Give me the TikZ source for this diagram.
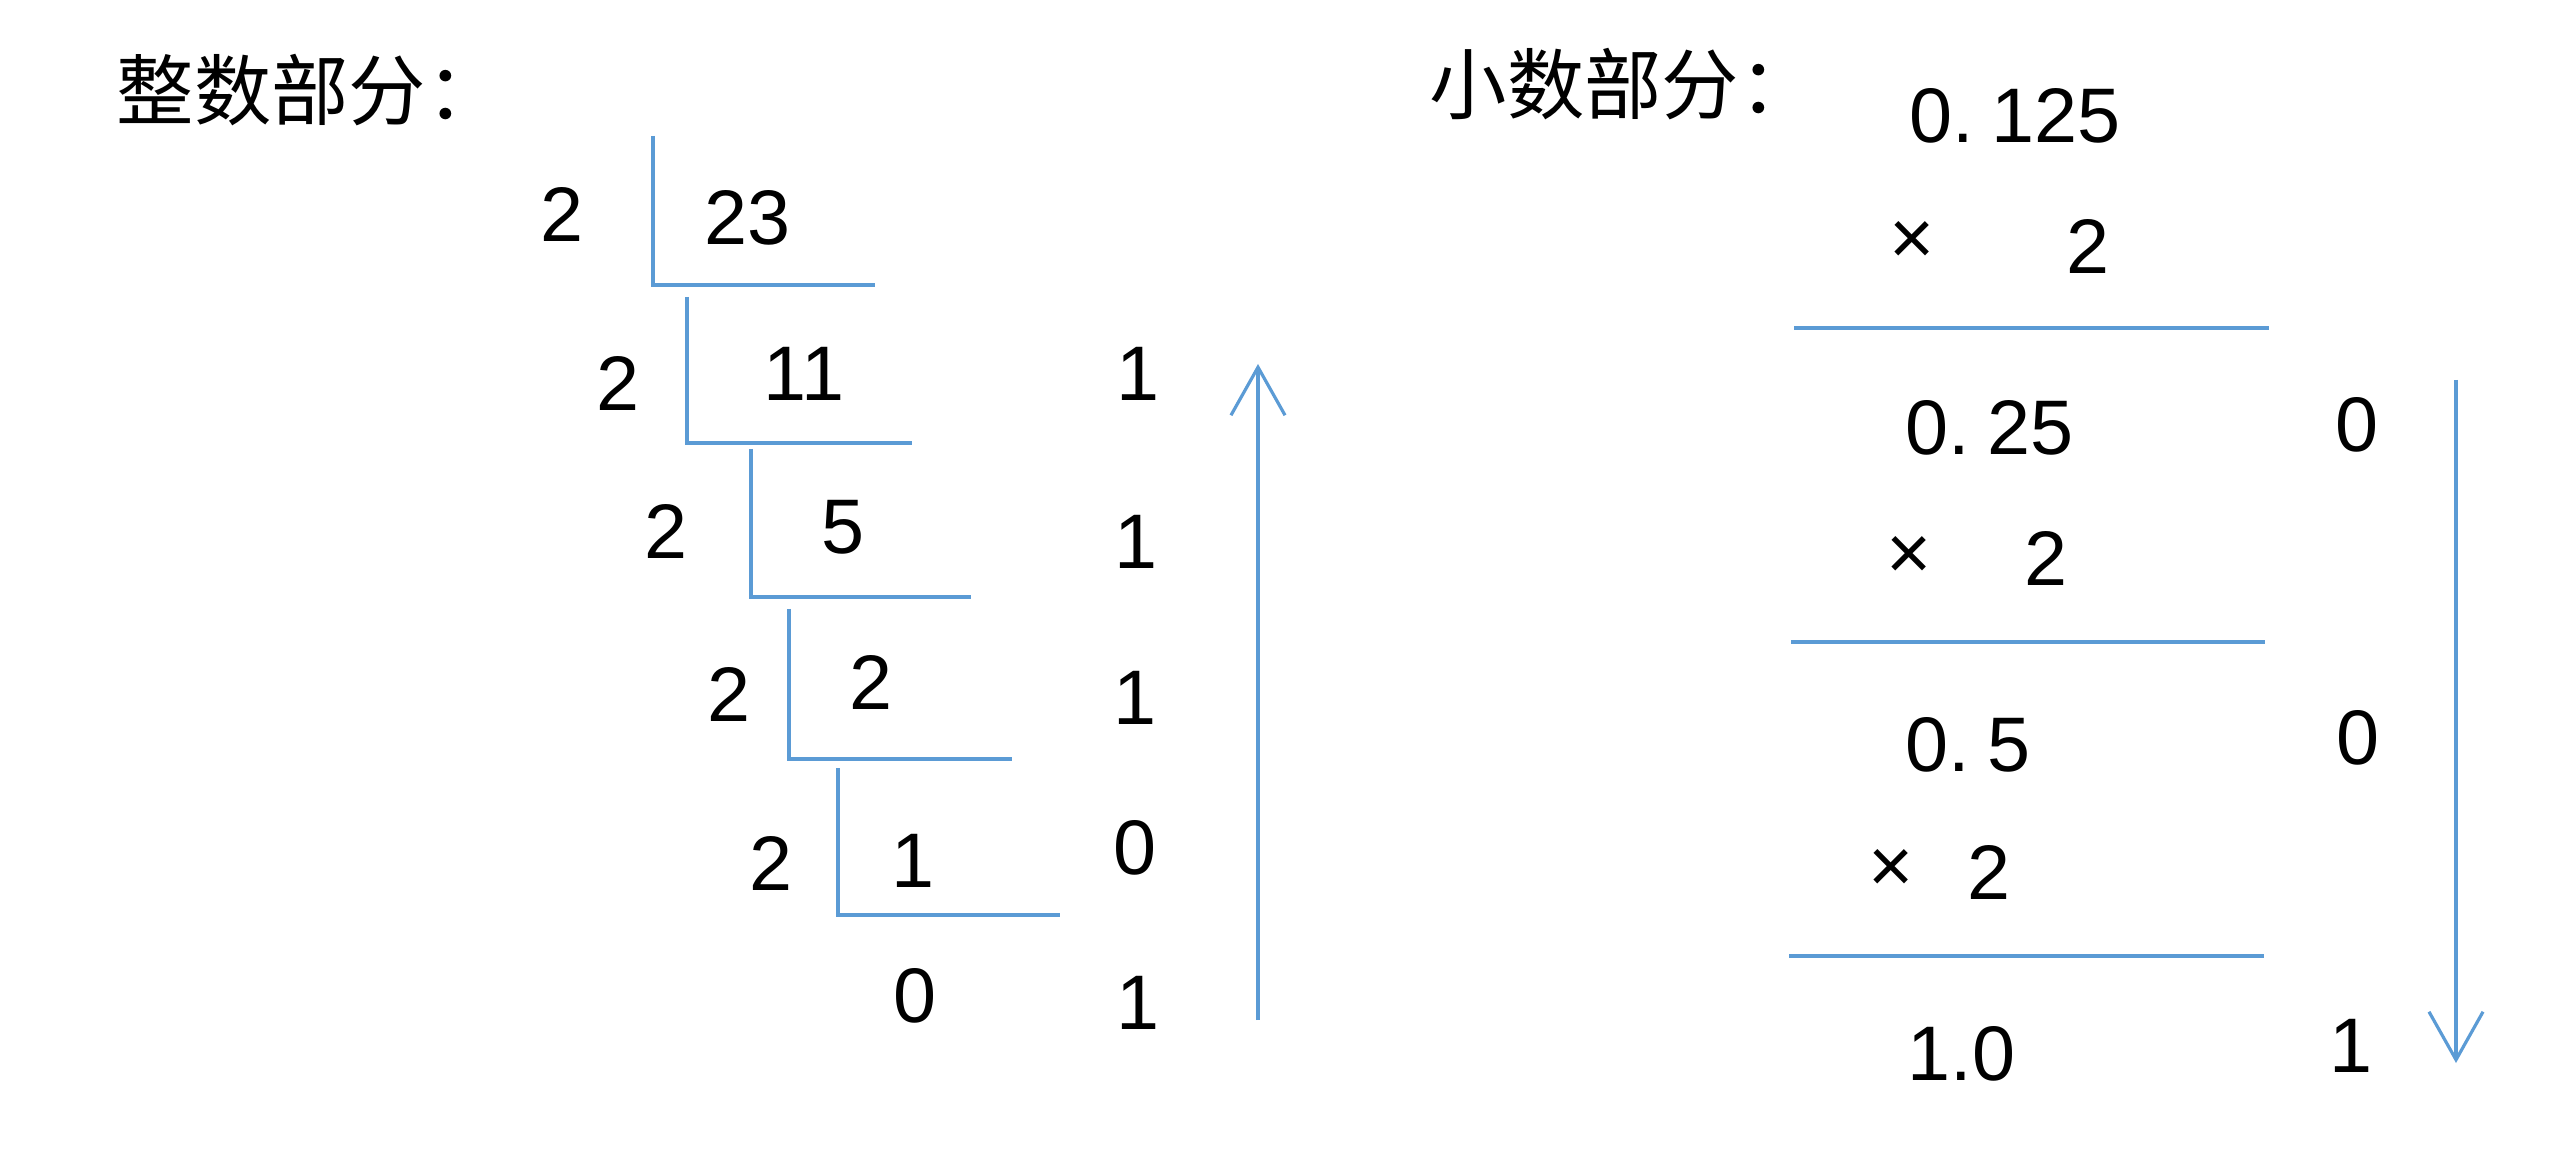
\documentclass[tikz,border=0pt]{standalone}
\usepackage{fontspec}
\setmainfont{Liberation Sans}
\newfontfamily\cjk{Noto Sans CJK SC}
\usetikzlibrary{arrows.meta}
\definecolor{lineblue}{RGB}{91,155,213}
\newcommand{\dsp}{\kern0.23em}
\tikzset{
  num/.style={anchor=base,inner sep=0pt,font=\fontsize{22}{26}\selectfont},
  numw/.style={anchor=base west,inner sep=0pt,font=\fontsize{22}{26}\selectfont},
  times/.style={anchor=center,inner sep=0pt,font=\fontsize{22}{26}\selectfont},
  title/.style={anchor=base west,inner sep=0pt,font=\cjk\fontsize{22}{26}\selectfont},
  rule/.style={draw=lineblue,line width=0.9pt},
  flow/.style={draw=lineblue,line width=0.9pt,-{Straight Barb[length=4.8mm,width=5.4mm]}}
}
\begin{document}
\begin{tikzpicture}[x=0.01cm,y=-0.01cm]
\useasboundingbox[fill=white] (0,0) rectangle (2560,1164);
% titles
\node[title] (tl) at (116,120) {整数部分：};
\node[title] (tr) at (1429,114) {小数部分：};
% ---- integer part ----
\node[num] (d1) at (562,242) {2};
\node[num] (q1) at (748,245) {23};
\node[num] (d2) at (618,411) {2};
\node[num] (q2) at (804,401) {11};
\node[num] (r1) at (1138,401) {1};
\node[num] (d3) at (666,558) {2};
\node[num] (q3) at (843,554) {5};
\node[num] (r2) at (1136,568) {1};
\node[num] (d4) at (729,721) {2};
\node[num] (q4) at (871,709) {2};
\node[num] (r3) at (1135,724) {1};
\node[num] (d5) at (771,890) {2};
\node[num] (q5) at (913,887) {1};
\node[num] (r4) at (1135,874) {0};
\node[num] (q6) at (915,1022) {0};
\node[num] (r5) at (1138,1029) {1};
% division brackets
\coordinate (b1t) at (653,136); \coordinate (b1c) at (653,285); \coordinate (b1r) at (875,285);
\coordinate (b2t) at (687,297); \coordinate (b2c) at (687,443); \coordinate (b2r) at (912,443);
\coordinate (b3t) at (751,449); \coordinate (b3c) at (751,597); \coordinate (b3r) at (971,597);
\coordinate (b4t) at (789,609); \coordinate (b4c) at (789,759); \coordinate (b4r) at (1012,759);
\coordinate (b5t) at (838,768); \coordinate (b5c) at (838,915); \coordinate (b5r) at (1060,915);
\draw[rule] (b1t) -- (b1c) -- (b1r);
\draw[rule] (b2t) -- (b2c) -- (b2r);
\draw[rule] (b3t) -- (b3c) -- (b3r);
\draw[rule] (b4t) -- (b4c) -- (b4r);
\draw[rule] (b5t) -- (b5c) -- (b5r);
% upward arrow
\coordinate (ua0) at (1258,1020);
\coordinate (ua1) at (1258,364);
\draw[flow] (ua0) -- (ua1);
% ---- fractional part ----
\node[numw] (f1) at (1909,143) {0.\dsp125};
\node[times] (x1) at (1912,243) {×};
\node[num] (m1) at (2088,274) {2};
\coordinate (l1a) at (1794,328); \coordinate (l1b) at (2269,328);
\draw[rule] (l1a) -- (l1b);
\node[numw] (f2) at (1905,455) {0.\dsp25};
\node[num] (s1) at (2357,452) {0};
\node[times] (x2) at (1909,558) {×};
\node[num] (m2) at (2046,586) {2};
\coordinate (l2a) at (1791,642); \coordinate (l2b) at (2265,642);
\draw[rule] (l2a) -- (l2b);
\node[numw] (f3) at (1905,771) {0.\dsp5};
\node[num] (s2) at (2358,764) {0};
\node[times] (x3) at (1891,871) {×};
\node[num] (m3) at (1989,899) {2};
\coordinate (l3a) at (1789,956); \coordinate (l3b) at (2264,956);
\draw[rule] (l3a) -- (l3b);
\node[numw] (f4) at (1907,1080) {1.0};
\node[num] (s3) at (2351,1072) {1};
% downward arrow
\coordinate (da0) at (2456,380);
\coordinate (da1) at (2456,1063);
\draw[flow] (da0) -- (da1);
\end{tikzpicture}
\end{document}
